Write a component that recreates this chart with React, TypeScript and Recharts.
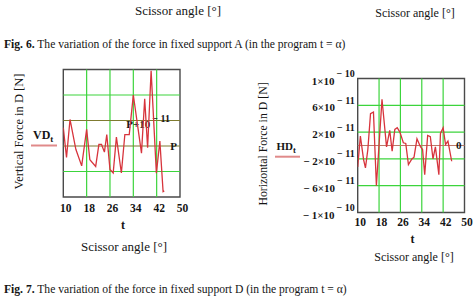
import React from 'react';
import { LineChart, Line, XAxis, YAxis, ReferenceLine, ReferenceArea } from 'recharts';

// t = scissor angle (deg); values in units of 1e-11 N
// VD is measured relative to P
const vdT = [10, 11.1, 12.3, 14.3, 16.3, 18, 19.1, 21.1, 22.2, 23.1, 24.1, 24.9, 26, 27.1, 28.2, 29.9, 31.1, 32.6, 34, 36.8, 37.9, 38.9, 40.1, 41.9, 43.1, 44.2, 44.6];
const vdValues = [0.72, -0.45, 1.04, -0.13, -0.78, 0.65, -0.54, -0.8, 0.06, 0.06, -0.24, 0.45, -0.92, -1.06, 0.35, -1.06, 0.45, 0.45, 2.0, -0.28, 1.85, -0.07, 2.95, -1.07, 0.19, -1.79, -1.76];

const hdT = [10, 11, 12.2, 12.9, 13.8, 14.8, 15.9, 17, 19.1, 20.8, 22, 22.9, 23.9, 24.8, 25.8, 27.1, 28, 29, 30.3, 31.1, 32.2, 33.4, 34.3, 35.1, 36.2, 37.2, 38.2, 39.1, 40.4, 41, 42, 42.9, 43.8, 45.2];
const hdValues = [-3.2, 1.4, -2.1, -3.35, -0.6, 4.75, 5.0, -6.0, 6.9, -0.2, 2.25, -0.85, 2.4, 2.65, 2.0, 0.4, 0.3, -2.85, -2.0, -1.75, 1.0, -0.1, -0.6, -4.35, 1.5, 1.3, -2.0, -0.2, -4.35, 1.8, 2.65, 0.15, 0.65, -2.35];

const tTicks = [10, 18, 26, 34, 42, 50];
const tGrid = [18, 26, 34, 42];

const vdGridY = [-1, 2];
const vdMarkY = [0, 1]; // P and P+10^-11

const hdTicks = [10, 6, 2, -2, -6, -10];
const hdTickMantissa = ['1×10', '6×10', '2×10', '− 2×10', '− 6×10', '− 1×10'];
const hdTickExponent = ['− 10', '− 11', '− 11', '− 11', '− 11', '− 10'];
const hdGridY = [6, 2, -2, -6];

const vdData = vdT.map((t, i) => ({ t, v: vdValues[i] }));
const hdData = hdT.map((t, i) => ({ t, h: hdValues[i] }));

const SERIF = '"Liberation Serif", "Times New Roman", serif';
const GRID = '#3cd43c';
const MARK = '#7f7b30';
const ZERO = '#bb7868';
const RED = '#d7343c';
const BOX = '#4a4a4a';
const INK = '#151515';

const TTick = (props: any) => {
  const { x, y, payload } = props;
  return (
    <text x={x + 2.5} y={y} dy="0.71em" textAnchor="middle" fontFamily={SERIF} fontWeight="bold" fontSize={11.5} fill={INK}>
      {payload.value}
    </text>
  );
};

const HdTick = (props: any) => {
  const { x, y, payload } = props;
  const i = hdTicks.indexOf(payload.value);
  return (
    <text x={x} y={y + 6} textAnchor="end" fontFamily={SERIF} fontWeight="bold" fontSize={11} fill={INK}>
      {hdTickMantissa[i]}
      <tspan dx={2} dy={-7.5} fontSize={10}>{hdTickExponent[i]}</tspan>
    </text>
  );
};

const MarkLabel = (props: any) => {
  const { viewBox, text, exp, inset, drop } = props;
  const right = viewBox.x + viewBox.width - inset;
  return (
    <text x={right} y={viewBox.y + drop} textAnchor="end" fontFamily={SERIF} fontWeight="bold" fontSize={11} fill={INK}>
      {text}
      {exp ? <tspan dx={2} dy={-6} fontSize={10}>{exp}</tspan> : null}
    </text>
  );
};

function VerticalForceChart() {
  return (
    <LineChart width={160} height={165} data={vdData} margin={{ top: 9.5, right: 20, bottom: 0, left: 23.3 }}>
      <XAxis dataKey="t" type="number" domain={[10, 50]} ticks={tTicks} interval={0} axisLine={false} tickLine={false} tickSize={0} tickMargin={7} height={28} tick={<TTick />} allowDataOverflow />
      <YAxis hide type="number" domain={[-2, 3]} allowDataOverflow />
      {tGrid.map((t) => (
        <ReferenceLine key={'x' + t} x={t} stroke={GRID} strokeWidth={1.2} />
      ))}
      {vdGridY.map((v) => (
        <ReferenceLine key={'y' + v} y={v} stroke={GRID} strokeWidth={1.2} />
      ))}
      <ReferenceLine y={vdMarkY[1]} stroke={MARK} strokeWidth={1.2}
        label={(p: any) => <MarkLabel {...p} text="P+10" exp="− 11" inset={10} drop={7.5} />} />
      <ReferenceLine y={vdMarkY[0]} stroke={MARK} strokeWidth={1.2}
        label={(p: any) => <MarkLabel {...p} text="P" inset={3} drop={4} />} />
      <ReferenceArea x1={10} x2={50} y1={-2} y2={3} fill="none" stroke={BOX} strokeWidth={1.4} />
      <Line type="linear" dataKey="v" stroke={RED} strokeWidth={1.3} dot={false} isAnimationActive={false} />
    </LineChart>
  );
}

function HorizontalForceChart() {
  return (
    <LineChart width={184} height={170} data={hdData} margin={{ top: 18.5, right: 9.5, bottom: 0, left: 0 }}>
      <XAxis dataKey="t" type="number" domain={[10, 50]} ticks={tTicks} interval={0} axisLine={false} tickLine={false} tickSize={0} tickMargin={5.5} height={17.5} tick={<TTick />} allowDataOverflow />
      <YAxis type="number" domain={[-10, 10]} ticks={hdTicks} interval={0} width={67.7} axisLine={false} tickLine={false} tickSize={0} tickMargin={3} tick={<HdTick />} allowDataOverflow />
      {tGrid.map((t) => (
        <ReferenceLine key={'x' + t} x={t} stroke={GRID} strokeWidth={1.2} />
      ))}
      {hdGridY.map((v) => (
        <ReferenceLine key={'y' + v} y={v} stroke={GRID} strokeWidth={1.2} />
      ))}
      <ReferenceLine y={0} stroke={ZERO} strokeWidth={1.1}
        label={(p: any) => <MarkLabel {...p} text="0" inset={3} drop={3.5} />} />
      <ReferenceArea x1={10} x2={50} y1={-10} y2={10} fill="none" stroke={BOX} strokeWidth={1.4} />
      <Line type="linear" dataKey="h" stroke={RED} strokeWidth={1.3} dot={false} isAnimationActive={false} />
    </LineChart>
  );
}

export default function App() {
  return (
    <div style={{ position: 'absolute', left: 0, top: 0, width: 474, height: 301, background: '#fff', overflow: 'hidden' }}>
      <svg width={474} height={301} style={{ position: 'absolute', left: 0, top: 0 }} fontFamily={SERIF} fill={INK}>
        <text x={178} y={14.5} fontSize={13} textAnchor="middle">Scissor angle [°]</text>
        <text x={415} y={16.5} fontSize={12} textAnchor="middle">Scissor angle [°]</text>
        <text x={4} y={48} fontSize={11.6}>
          <tspan fontWeight="bold">Fig. 6.</tspan> The variation of the force in fixed support A (in the program t = α)
        </text>

        <text x={19} y={131.5} fontSize={12.5} textAnchor="middle" dominantBaseline="central" transform="rotate(-90 19 131.5)">Vertical Force in D [N]</text>
        <text x={33} y={139} fontSize={12} fontWeight="bold">VD<tspan fontSize={9} dy={3}>t</tspan></text>
        <line x1={31} x2={57} y1={145.5} y2={145.5} stroke="#e08a8a" strokeWidth={2} />
        <text x={123} y={228.5} fontSize={12} fontWeight="bold" textAnchor="middle">t</text>
        <text x={124} y={250.5} fontSize={13} textAnchor="middle">Scissor angle [°]</text>

        <text x={262.5} y={144} fontSize={11.8} textAnchor="middle" dominantBaseline="central" transform="rotate(-90 262.5 144)">Horizontal Force in D [N]</text>
        <text x={276.5} y={150} fontSize={11} fontWeight="bold">HD<tspan fontSize={8.5} dy={3}>t</tspan></text>
        <line x1={275} x2={300} y1={156.7} y2={156.7} stroke="#e08a8a" strokeWidth={2} />
        <text x={412.5} y={242.5} fontSize={12} fontWeight="bold" textAnchor="middle">t</text>
        <text x={414} y={261} fontSize={12} textAnchor="middle">Scissor angle [°]</text>

        <text x={4} y={292.5} fontSize={11.6}>
          <tspan fontWeight="bold">Fig. 7.</tspan> The variation of the force in fixed support D (in the program t = α)
        </text>
      </svg>
      <div style={{ position: 'absolute', left: 40, top: 60 }}>
        <VerticalForceChart />
      </div>
      <div style={{ position: 'absolute', left: 290, top: 60 }}>
        <HorizontalForceChart />
      </div>
    </div>
  );
}
